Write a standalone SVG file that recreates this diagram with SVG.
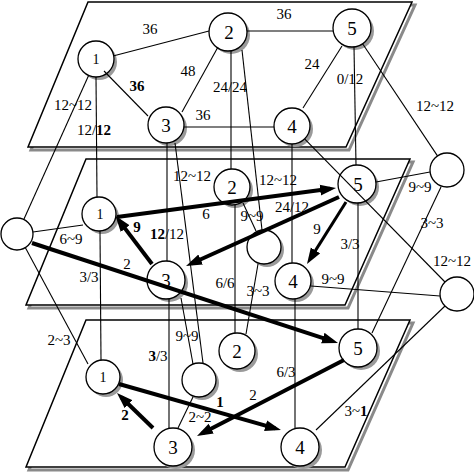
<svg xmlns="http://www.w3.org/2000/svg" width="474" height="472" viewBox="0 0 474 472">
<defs>
<style>
.ps{fill:#fff;stroke:#8a8a8a;stroke-width:3}
.pl{fill:#fff;stroke:#000;stroke-width:1.5}
.sh{fill:#9a9a9a}
.n{fill:#fff;stroke:#000;stroke-width:1.3}
.ln{stroke:#000;stroke-width:1.1;fill:none}
.tk{stroke:#000;stroke-width:4;fill:none;marker-end:url(#ah)}
text{font-family:"Liberation Serif","Times New Roman",serif;font-size:15px;text-anchor:middle;fill:#000}
.nl{font-size:19px}
.ns{font-size:14px}
.b{font-weight:bold}
</style>
<marker id="ah" markerUnits="userSpaceOnUse" viewBox="0 0 16 12" refX="10" refY="6" markerWidth="16" markerHeight="12" orient="auto"><path d="M0,0.5 L16,6 L0,11.5 z" fill="#000"/></marker>
</defs>
<rect width="474" height="472" fill="#fff"/>
<g id="planes">
<polygon class="ps" points="91,5 415,5 349,150 31,150"/>
<polygon class="pl" points="88,2 412,2 346,147 28,147"/>
<polygon class="ps" points="89,162 413,162 348,308 29,308"/>
<polygon class="pl" points="86,159 410,159 345,305 26,305"/>
<polygon class="ps" points="89,323 413,323 348,470 29,470"/>
<polygon class="pl" points="86,320 410,320 345,467 26,467"/>
</g>
<g id="T1"><circle class="sh" cx="99" cy="62" r="18"/><circle class="n" cx="96" cy="59" r="18"/><text class="ns" x="96" y="64">1</text></g>
<g id="T2"><circle class="sh" cx="231" cy="35" r="19"/><circle class="n" cx="228" cy="32" r="19"/><text class="nl" x="229" y="39">2</text></g>
<g id="T3"><circle class="sh" cx="169" cy="128" r="18"/><circle class="n" cx="166" cy="125" r="18"/><text class="nl" x="166" y="132">3</text></g>
<g id="T4"><circle class="sh" cx="295" cy="129" r="18"/><circle class="n" cx="292" cy="126" r="18"/><text class="nl" x="292" y="133">4</text></g>
<g id="T5"><circle class="sh" cx="355" cy="31" r="19"/><circle class="n" cx="352" cy="28" r="19"/><text class="nl" x="352" y="35">5</text></g>
<g id="M1"><circle class="sh" cx="102" cy="217" r="17"/><circle class="n" cx="99" cy="214" r="17"/><text class="ns" x="100" y="219">1</text></g>
<g id="M2"><circle class="sh" cx="235" cy="190" r="18"/><circle class="n" cx="232" cy="187" r="18"/><text class="nl" x="232" y="194">2</text></g>
<g id="M3"><circle class="sh" cx="169" cy="283" r="19"/><circle class="n" cx="166" cy="280" r="19"/><text class="nl" x="166" y="287">3</text></g>
<g id="M4"><circle class="sh" cx="296" cy="284" r="18"/><circle class="n" cx="293" cy="281" r="18"/><text class="nl" x="293" y="288">4</text></g>
<g id="M5"><circle class="sh" cx="360" cy="187" r="19"/><circle class="n" cx="357" cy="184" r="19"/><text class="nl" x="358" y="191">5</text></g>
<g id="MU"><circle class="sh" cx="267" cy="250" r="17"/><circle class="n" cx="264" cy="247" r="17"/></g>
<g id="L"><circle class="n" cx="17" cy="234" r="16"/></g>
<g id="R1"><circle class="n" cx="447" cy="170" r="17"/></g>
<g id="R2"><circle class="n" cx="457" cy="294" r="17"/></g>
<g id="B1"><circle class="sh" cx="106" cy="380" r="17"/><circle class="n" cx="103" cy="377" r="17"/><text class="ns" x="103" y="382">1</text></g>
<g id="BU"><circle class="sh" cx="202" cy="383" r="17"/><circle class="n" cx="199" cy="380" r="17"/></g>
<g id="B2"><circle class="sh" cx="240" cy="354" r="18"/><circle class="n" cx="237" cy="351" r="18"/><text class="nl" x="237" y="358">2</text></g>
<g id="B3"><circle class="sh" cx="176" cy="450" r="19"/><circle class="n" cx="173" cy="447" r="19"/><text class="nl" x="173" y="454">3</text></g>
<g id="B4"><circle class="sh" cx="303" cy="450" r="19"/><circle class="n" cx="300" cy="447" r="19"/><text class="nl" x="300" y="454">4</text></g>
<g id="B5"><circle class="sh" cx="361" cy="351" r="19"/><circle class="n" cx="358" cy="348" r="19"/><text class="nl" x="358" y="355">5</text></g>
<g id="connectors">
<line class="ln" x1="113" y1="56" x2="209" y2="31"/>
<line class="ln" x1="104" y1="71" x2="148" y2="116"/>
<line class="ln" x1="218" y1="47" x2="182" y2="112"/>
<line class="ln" x1="184" y1="127" x2="274" y2="127"/>
<line class="ln" x1="247" y1="31" x2="333" y2="31"/>
<line class="ln" x1="342" y1="46" x2="303" y2="108"/>
<line class="ln" x1="96" y1="77" x2="97" y2="197"/>
<line class="ln" x1="100" y1="231" x2="101" y2="360"/>
<line class="ln" x1="88.6" y1="75.4" x2="24" y2="219"/>
<line class="ln" x1="33" y1="232" x2="83" y2="225"/>
<line class="ln" x1="25" y1="247" x2="88" y2="364"/>
<line class="ln" x1="167" y1="143" x2="167" y2="261"/>
<line class="ln" x1="175" y1="143" x2="203" y2="363"/>
<line class="ln" x1="181" y1="298" x2="193" y2="364"/>
<line class="ln" x1="169" y1="299" x2="169" y2="428"/>
<line class="ln" x1="231" y1="51" x2="231" y2="169"/>
<line class="ln" x1="242" y1="50" x2="262" y2="230"/>
<line class="ln" x1="243" y1="203" x2="256" y2="231"/>
<line class="ln" x1="235" y1="205" x2="235" y2="333"/>
<line class="ln" x1="258" y1="264" x2="246" y2="334"/>
<line class="ln" x1="292" y1="144" x2="292" y2="263"/>
<line class="ln" x1="295" y1="299" x2="295" y2="428"/>
<line class="ln" x1="304.6" y1="138.8" x2="445" y2="282"/>
<line class="ln" x1="354" y1="47" x2="356" y2="165"/>
<line class="ln" x1="362.6" y1="43.8" x2="437.5" y2="155.9"/>
<line class="ln" x1="376" y1="182" x2="430" y2="172"/>
<line class="ln" x1="441" y1="187" x2="372" y2="333"/>
<line class="ln" x1="358" y1="203" x2="358" y2="329"/>
<line class="ln" x1="311" y1="286" x2="440" y2="296"/>
<line class="ln" x1="445" y1="306" x2="316" y2="430"/>
<line class="ln" x1="193" y1="397" x2="178" y2="428"/>
<line class="tk" x1="117" y1="217" x2="330.1" y2="188.8"/>
<line class="tk" x1="339" y1="197" x2="191.5" y2="263.5"/>
<line class="tk" style="stroke-width:3" x1="346" y1="202" x2="310.2" y2="258.9"/>
<line class="tk" x1="152" y1="264" x2="119.1" y2="220.6"/>
<line class="tk" x1="32" y1="243" x2="332.3" y2="341.1"/>
<line class="tk" x1="153" y1="428" x2="121.3" y2="397.2"/>
<line class="tk" x1="119" y1="384" x2="275.2" y2="428.4"/>
<line class="tk" x1="344" y1="360" x2="202.3" y2="433.2"/>
</g>
<g id="labels">
<text x="150" y="34">36</text>
<text x="284" y="19">36</text>
<text x="188" y="76">48</text>
<text class="b" x="137" y="91">36</text>
<text x="203" y="120">36</text>
<text x="312" y="69">24</text>
<text x="230" y="92">24/24</text>
<text x="350" y="84">0/12</text>
<text x="73" y="110">12~12</text>
<text x="94" y="135">12/<tspan class="b">12</tspan></text>
<text x="435" y="111">12~12</text>
<text x="192" y="181">12~12</text>
<text x="278" y="185">12~12</text>
<text x="206" y="219">6</text>
<text x="252" y="221">9~9</text>
<text x="292" y="212">24/12</text>
<text x="317" y="234">9</text>
<text x="420" y="192">9~9</text>
<text x="432" y="228">3~3</text>
<text x="452" y="266">12~12</text>
<text x="350" y="249">3/3</text>
<text x="333" y="284">9~9</text>
<text x="258" y="296">3~3</text>
<text x="225" y="288">6/6</text>
<text x="167" y="239"><tspan class="b">12</tspan>/12</text>
<text class="b" x="137" y="232">9</text>
<text x="127" y="269">2</text>
<text x="71" y="244">6~9</text>
<text x="89" y="282">3/3</text>
<text x="59" y="345">2~3</text>
<text x="187" y="341">9~9</text>
<text x="158" y="361"><tspan class="b">3</tspan>/3</text>
<text class="b" x="125" y="420">2</text>
<text x="200" y="422">2~2</text>
<text class="b" x="220" y="407">1</text>
<text x="253" y="400">2</text>
<text x="286" y="377">6/3</text>
<text x="356" y="416">3~<tspan class="b">1</tspan></text>
</g>
</svg>
